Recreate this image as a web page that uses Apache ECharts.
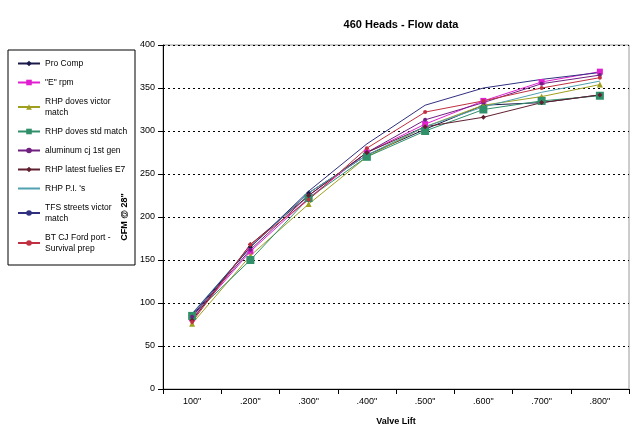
<!DOCTYPE html><html><head><meta charset="utf-8"><script src="https://cdn.jsdelivr.net/npm/echarts@6/dist/echarts.min.js"></script></head><body style="margin:0;background:#fff"><div id="c" style="width:640px;height:438px"></div><script>
const categories=['100"','.200"','.300"','.400"','.500"','.600"','.700"','.800"'];
const names=['Pro Comp','"E" rpm','RHP doves victor\nmatch','RHP doves std match','aluminum cj 1st gen','RHP latest fuelies E7','RHP P.I. \'s','TFS streets victor\nmatch','BT CJ Ford port -\nSurvival prep'];
const proComp=[85,165,228,272,302,330,333,342];
const eRpm=[82,160,222,275,308,335,357,369];
const dovesVictor=[76,155,215,270,305,330,340,354];
const dovesStd=[85,150,222,270,300,325,335,341];
const aluminumCj=[84,162,225,275,313,333,355,365];
const latestFuelies=[80,168,225,275,305,316,333,342];
const rhpPI=[88,165,228,272,305,328,345,358];
const tfsStreets=[87,165,230,285,330,350,360,368];
const btCj=[78,168,220,280,322,335,350,362];
const data=[proComp,eRpm,dovesVictor,dovesStd,aluminumCj,latestFuelies,rhpPI,tfsStreets,btCj];
const colors=['#1a1a4a','#e020d0','#a0a020','#30906a','#702080','#602030','#50a0b0','#303080','#c03040'];
const symbols=['diamond','rect','triangle','rect','circle','diamond','path://M0,-5L0,5M-5,0L5,0','none','circle'];
const sizes=[5,6,6,8,4,5,7,0,4];
const chart=echarts.init(document.getElementById('c'));
chart.setOption({
 animation:false,
 title:{text:'460 Heads - Flow data',left:396,top:14,textAlign:'center',textStyle:{fontSize:11,fontWeight:'bold',fontFamily:'Liberation Sans',color:'#000'}},
 grid:{left:163,right:11,top:45,bottom:49,show:true,borderColor:'#999',borderWidth:1,backgroundColor:'#fff'},
 legend:{orient:'vertical',left:12,top:53,itemWidth:22,itemHeight:7,itemGap:8,textStyle:{fontSize:8.5,fontFamily:'Liberation Sans',color:'#000',lineHeight:11},data:names.map((n,i)=>({name:n}))},
 graphic:[{type:'rect',shape:{x:8,y:50,width:127,height:215},style:{fill:'none',stroke:'#000',lineWidth:1}}],
 xAxis:{type:'category',data:categories,name:'Valve Lift',nameLocation:'middle',nameGap:28,nameTextStyle:{fontSize:9,fontWeight:'bold',fontFamily:'Liberation Sans',color:'#000'},axisLine:{lineStyle:{color:'#000'}},axisTick:{show:true,lineStyle:{color:'#000'}},axisLabel:{fontSize:9,fontFamily:'Liberation Sans',color:'#000'}},
 yAxis:{type:'value',min:0,max:400,interval:50,name:'CFM @ 28"',nameLocation:'middle',nameGap:30,nameTextStyle:{fontSize:9,fontWeight:'bold',fontFamily:'Liberation Sans',color:'#000'},axisLine:{show:true,lineStyle:{color:'#000'}},axisTick:{show:true,lineStyle:{color:'#000'}},axisLabel:{fontSize:9,fontFamily:'Liberation Sans',color:'#000'},splitLine:{lineStyle:{color:'#000',type:[2,3],width:1}}},
 series:data.map((d,i)=>({name:names[i],type:'line',data:d,color:colors[i],symbol:symbols[i],symbolSize:sizes[i],showSymbol:symbols[i]!=='none',lineStyle:{width:1,color:colors[i]},itemStyle:{color:colors[i]}}))
});
</script></body></html>
